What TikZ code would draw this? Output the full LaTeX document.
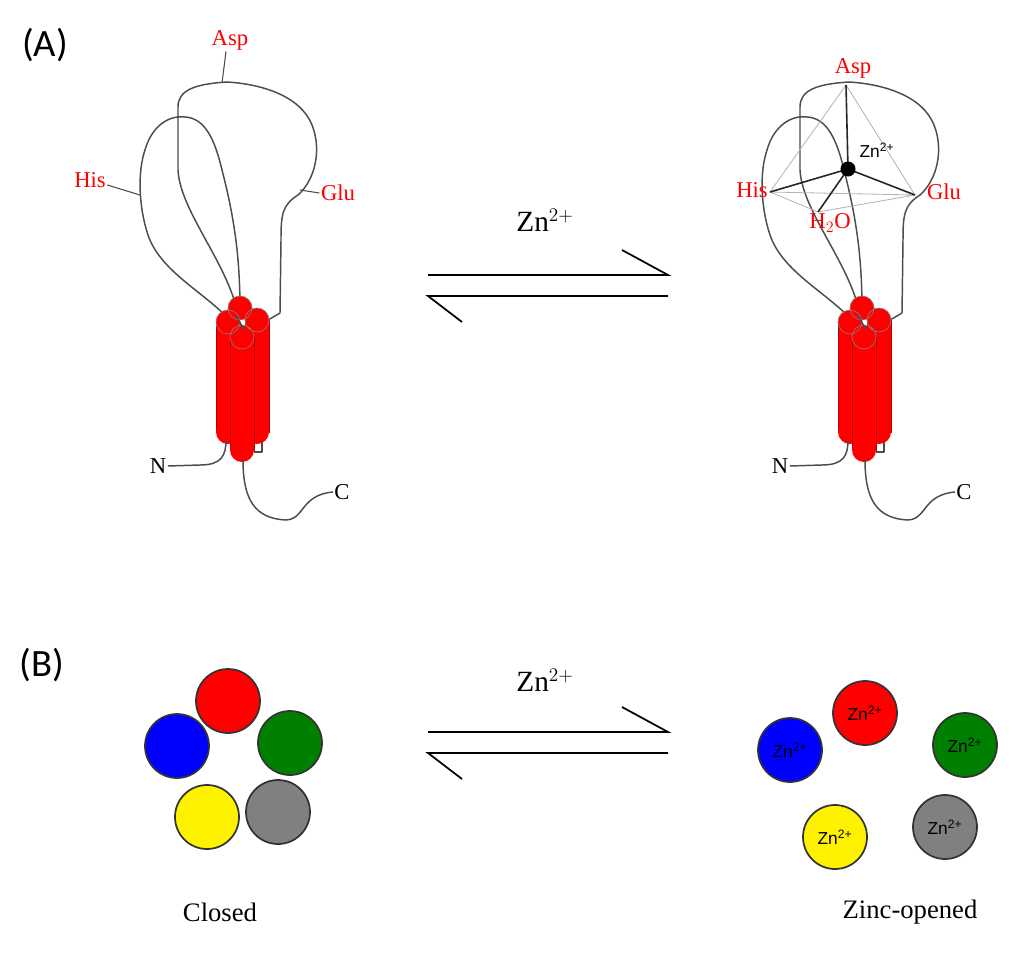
\documentclass[tikz,border=0pt]{standalone}
\usepackage{fontspec}
\setmainfont{Liberation Serif}
\newfontfamily\calfnt{Carlito}
\newfontfamily\ars{Liberation Sans}
\begin{document}
\begin{tikzpicture}[x=0.75pt,y=-0.75pt,
 loop/.style={draw=black!70,line width=1.1pt,line join=round},
 res/.style={text=red,font=\fontsize{17}{17}\selectfont,inner sep=1pt},
 term/.style={font=\fontsize{17}{17}\selectfont,inner sep=1pt},
 cyl/.style={fill=red,draw=red!70!black,line width=0.3pt},
 eq/.style={line width=1.3pt},
 ball/.style={circle,minimum size=64pt*0.75,draw=black!80,line width=1.3pt,inner sep=0pt,font=\ars\fontsize{13}{13}\selectfont},
 zlab/.style={font=\fontsize{22}{22}\selectfont},
 panel/.style={font=\calfnt\fontsize{29}{29}\selectfont}]
\useasboundingbox (0,0) rectangle (1024,956);
\node[panel] (pA) at (45,45) {(A)};
\node[panel] (pB) at (42,665) {(B)};
\foreach \dx/\nm in {0/L,622/R}{
\begin{scope}[xshift=\dx*0.75pt]
\draw[loop] (237,310) .. controls (225,260) and (180,210) .. (178,170) -- (178,107)
  .. controls (178,90) and (195,84) .. (227,82) .. controls (260,84) and (300,95) .. (312,125)
  .. controls (322,150) and (315,180) .. (298,195) .. controls (282,205) and (281,215) .. (281,240) -- (280,313) -- (263,323);
\draw[loop] (227,317) .. controls (200,290) and (160,270) .. (148,235) .. controls (138,205) and (138,170) .. (145,150)
  .. controls (152,125) and (170,115) .. (185,117) .. controls (205,118) and (215,140) .. (222,170) .. controls (235,220) and (240,260) .. (240,310);
\draw[cyl] (216,322) rectangle (240,432);
\fill[red] (228,322) circle (12) (228,432) circle (12);
\draw[cyl] (245,320) rectangle (269,432);
\fill[red] (257,320) circle (12) (257,432) circle (12);
\fill[red] (240,308) circle (12);
\draw[cyl] (230,337) rectangle (254,450);
\fill[red] (242,337) circle (12) (242,450) circle (12);
\draw[black!50,line width=0.5pt] (228,322) circle (12) (257,320) circle (12) (242,337) circle (12) (240,308) circle (12);
\draw[loop] (236,315) -- (244,330);
\node[term] (N\nm) at (158,466) {N};
\node[term] (C\nm) at (342,492) {C};
\draw[loop] (N\nm.east) -- (200,465) .. controls (222,465) and (226,455) .. (226,440);
\draw[loop] (243,460) .. controls (243,500) and (255,518) .. (285,520) .. controls (305,520) and (300,495) .. (C\nm.west);
\draw[loop] (262,442) -- (262,452) -- (254,452);
\end{scope}}
\node[res] (aspL) at (230,40) {Asp};
\node[res] (hisL) at (90,180) {His};
\node[res] (gluL) at (338,193) {Glu};
\draw[loop,line width=0.8pt] (aspL.south)++(-4,0) -- (222,83);
\draw[loop,line width=0.8pt] (hisL.east)++(0,5) -- (140,195);
\draw[loop,line width=0.8pt] (gluL.west) -- (300,190);
\coordinate (zn) at (848,169);
\node[res] (aspR) at (853,68) {Asp};
\node[res] (hisR) at (752,190) {His};
\node[res] (gluR) at (944,192) {Glu};
\node[res] (h2o) at (830,223) {H$_2$O};
\coordinate (a1) at (846,85);
\coordinate (h1) at (770,192);
\coordinate (g1) at (915,195);
\coordinate (w1) at (818,212);
\draw[black!30,line width=0.6pt] (a1)--(h1)--(g1)--(a1) (h1)--(w1)--(g1);
\draw[line width=1.2pt,black!85] (zn)--(a1) (zn)--(h1) (zn)--(g1) (zn)--(w1);
\fill (zn) circle (7.5);
\node[font=\ars\fontsize{13}{13}\selectfont,inner sep=0pt] (znl) at (877,150) {Zn\textsuperscript{2+}};
\foreach \y/\lab in {275/a,732/b}{
\coordinate (s\lab) at (428,\y); \coordinate (e\lab) at (668,\y);
\coordinate (s2\lab) at (428,\y+21); \coordinate (e2\lab) at (668,\y+21);
\draw[eq] (s\lab) -- (e\lab) -- ++(-46,-25);
\draw[eq] (e2\lab) -- (s2\lab) -- ++(34,26);
}
\node[zlab] (z1) at (545,220) {Zn$^{2+}$};
\node[zlab] (z2) at (545,680) {Zn$^{2+}$};
\node[ball,fill=red] (c1) at (228,701) {};
\node[ball,fill=blue] (c2) at (177,746) {};
\node[ball,fill=green!50!black] (c3) at (290,743) {};
\node[ball,fill=yellow] (c4) at (207,817) {};
\node[ball,fill=gray] (c5) at (278,812) {};
\node[ball,fill=red] (o1) at (865,713) {Zn\textsuperscript{2+}};
\node[ball,fill=blue] (o2) at (790,750) {Zn\textsuperscript{2+}};
\node[ball,fill=green!50!black] (o3) at (965,745) {Zn\textsuperscript{2+}};
\node[ball,fill=yellow] (o4) at (835,837) {Zn\textsuperscript{2+}};
\node[ball,fill=gray] (o5) at (945,827) {Zn\textsuperscript{2+}};
\node[font=\fontsize{20}{20}\selectfont] (cl) at (220,912) {Closed};
\node[font=\fontsize{20}{20}\selectfont] (zo) at (910,912) {Zinc-opened};
\end{tikzpicture}
\end{document}
